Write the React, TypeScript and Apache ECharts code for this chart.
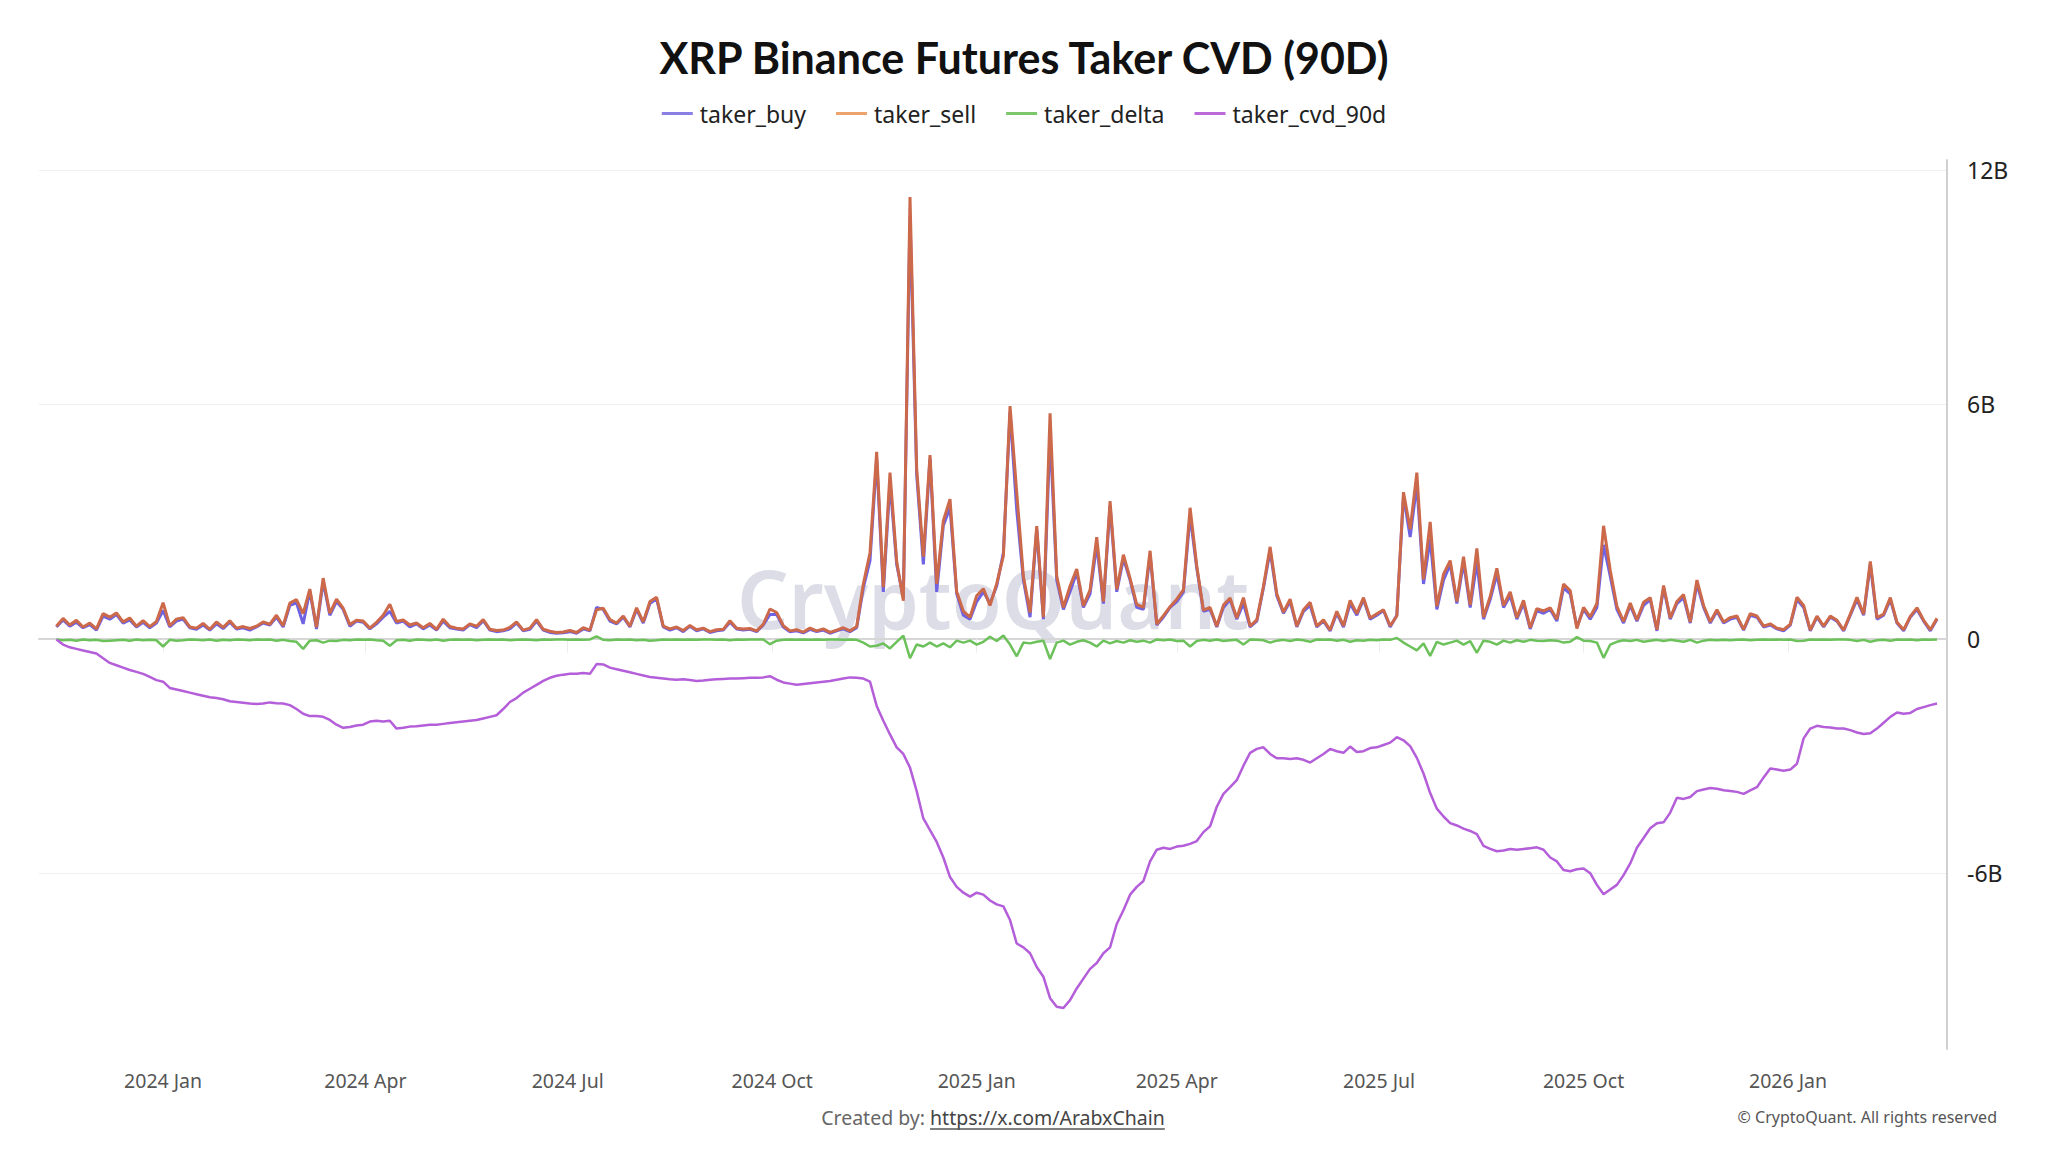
import { useEffect, useRef } from "react";
import * as echarts from "echarts";

const TITLE = "XRP Binance Futures Taker CVD (90D)";
const SERIES_NAMES = ["taker_buy", "taker_sell", "taker_delta", "taker_cvd_90d"];
const START_UTC = Date.UTC(2023, 10, 14);
const STEP_DAYS = 3;

// taker buy volume (billions), one value every 3 days from 2023-11-14
const takerBuyB = [
  0.30, 0.48, 0.32, 0.42, 0.28, 0.36, 0.22, 0.58, 0.50, 0.62, 0.40, 0.48, 0.30, 0.42, 0.28, 0.40,
  0.72, 0.30, 0.45, 0.50, 0.28, 0.24, 0.35, 0.22, 0.38, 0.26, 0.42, 0.25, 0.28, 0.22, 0.30,
  0.40, 0.35, 0.55, 0.30, 0.85, 0.92, 0.38, 1.22, 0.25, 1.45, 0.60, 0.95, 0.75, 0.32, 0.45,
  0.42, 0.25, 0.38, 0.55, 0.70, 0.40, 0.45, 0.30, 0.38, 0.25, 0.35, 0.22, 0.45, 0.28, 0.25,
  0.22, 0.36, 0.28, 0.46, 0.22, 0.18, 0.20, 0.25, 0.40, 0.20, 0.24, 0.45, 0.22, 0.16, 0.14,
  0.15, 0.18, 0.14, 0.25, 0.20, 0.80, 0.75, 0.45, 0.38, 0.55, 0.30, 0.75, 0.40, 0.90, 1.02,
  0.30, 0.22, 0.28, 0.18, 0.32, 0.20, 0.25, 0.16, 0.20, 0.22, 0.42, 0.25, 0.22, 0.24, 0.18,
  0.35, 0.62, 0.62, 0.30, 0.18, 0.20, 0.15, 0.24, 0.18, 0.22, 0.14, 0.20, 0.25, 0.18, 0.28,
  1.30, 2.00, 4.60, 1.20, 4.00, 1.90, 1.05, 10.8, 4.20, 1.90, 4.60, 1.20, 2.90, 3.35, 1.15,
  0.60, 0.50, 0.95, 1.20, 0.90, 1.35, 2.20, 5.80, 3.30, 1.50, 0.55, 2.80, 0.50, 5.25, 1.50,
  0.75, 1.20, 1.70, 0.80, 1.15, 2.40, 0.90, 3.40, 1.20, 2.05, 1.50, 0.80, 0.75, 2.15, 0.35,
  0.55, 0.80, 0.95, 1.20, 3.15, 1.80, 0.70, 0.75, 0.30, 0.80, 1.00, 0.50, 0.90, 0.30, 0.45,
  1.30, 2.25, 1.10, 0.65, 0.95, 0.30, 0.70, 0.85, 0.30, 0.45, 0.20, 0.65, 0.30, 0.90, 0.60,
  1.00, 0.50, 0.60, 0.72, 0.30, 0.60, 3.65, 2.60, 3.95, 1.40, 2.55, 0.75, 1.50, 1.90, 0.90,
  1.95, 0.80, 1.95, 0.50, 1.00, 1.65, 0.80, 1.10, 0.50, 0.90, 0.25, 0.72, 0.65, 0.75, 0.45,
  1.30, 1.15, 0.30, 0.75, 0.50, 0.80, 2.40, 1.60, 0.75, 0.40, 0.85, 0.45, 0.85, 1.00, 0.20,
  1.30, 0.50, 0.90, 1.05, 0.40, 1.40, 0.80, 0.40, 0.70, 0.40, 0.50, 0.55, 0.22, 0.60, 0.55,
  0.30, 0.35, 0.25, 0.20, 0.35, 1.00, 0.80, 0.20, 0.55, 0.30, 0.55, 0.45, 0.20, 0.60, 1.00,
  0.60, 1.90, 0.50, 0.60, 1.00, 0.40, 0.20, 0.55, 0.75, 0.45, 0.20, 0.50,
];

// taker delta = buy - sell (billions)
const takerDeltaB = [
  -0.02, -0.04, -0.03, -0.05, -0.02, -0.04, -0.03, -0.06, -0.05, -0.04, -0.03, -0.05, -0.02, -0.04, -0.03, -0.04,
  -0.20, -0.03, -0.05, -0.04, -0.02, -0.03, -0.04, -0.02, -0.05, -0.03, -0.04, -0.02, -0.03, -0.04, -0.02,
  -0.03, -0.02, -0.05, -0.03, -0.06, -0.08, -0.26, -0.05, -0.04, -0.10, -0.05, -0.06, -0.03, -0.04, -0.02,
  -0.03, -0.02, -0.04, -0.05, -0.18, -0.04, -0.03, -0.05, -0.02, -0.03, -0.04, -0.02, -0.05, -0.03, -0.02,
  -0.03, -0.02, -0.04, -0.03, -0.02, -0.03, -0.02, -0.04, -0.03, -0.02, -0.03, -0.04, -0.02, -0.03, -0.02,
  -0.02, -0.03, -0.02, -0.03, -0.02, 0.06, -0.03, -0.04, -0.02, -0.03, -0.02, -0.04, -0.03, -0.05, -0.04,
  -0.02, -0.03, -0.02, -0.03, -0.02, -0.03, -0.02, -0.02, -0.03, -0.02, -0.04, -0.02, -0.03, -0.02, -0.02,
  -0.02, -0.14, -0.05, -0.03, -0.02, -0.03, -0.02, -0.03, -0.02, -0.03, -0.02, -0.02, -0.03, -0.02, -0.03,
  -0.10, -0.20, -0.18, -0.12, -0.25, -0.08, 0.08, -0.50, -0.15, -0.20, -0.10, -0.20, -0.12, -0.22, -0.05,
  -0.10, -0.05, -0.15, -0.08, 0.05, -0.06, 0.08, -0.15, -0.45, -0.10, -0.12, -0.08, -0.05, -0.52, -0.10,
  -0.05, -0.15, -0.08, -0.04, -0.10, -0.20, -0.05, -0.12, -0.06, -0.10, -0.04, -0.08, -0.05, -0.10, -0.02,
  -0.04, -0.02, -0.06, -0.05, -0.20, -0.06, -0.03, -0.05, -0.02, -0.06, -0.04, -0.03, -0.15, -0.02, -0.03,
  -0.04, -0.10, -0.05, -0.03, -0.06, -0.02, -0.04, -0.08, -0.02, -0.03, -0.02, -0.05, -0.03, -0.08, -0.04,
  -0.05, -0.03, -0.04, -0.02, -0.03, 0.02, -0.10, -0.20, -0.30, -0.12, -0.44, -0.08, -0.15, -0.10, -0.05,
  -0.15, -0.06, -0.36, -0.05, -0.08, -0.15, -0.05, -0.10, -0.04, -0.08, -0.03, -0.05, -0.06, -0.04, -0.05,
  -0.10, -0.08, 0.04, -0.05, -0.06, -0.10, -0.49, -0.15, -0.08, -0.04, -0.06, -0.03, -0.08, -0.05, -0.03,
  -0.06, -0.03, -0.05, -0.08, -0.03, -0.10, -0.05, -0.03, -0.04, -0.03, -0.04, -0.03, -0.02, -0.04, -0.03,
  -0.02, -0.03, -0.02, -0.03, -0.02, -0.06, -0.05, -0.02, -0.03, -0.02, -0.03, -0.02, -0.02, -0.03, -0.06,
  -0.03, -0.08, -0.04, -0.03, -0.05, -0.02, -0.03, -0.02, -0.04, -0.02, -0.03, -0.02,
];

// 90-day cumulative volume delta (billions)
const takerCvd90dB = [
  -0.02, -0.15, -0.22, -0.26, -0.30, -0.34, -0.38, -0.50, -0.62, -0.68, -0.74, -0.80, -0.85, -0.90, -0.98, -1.06,
  -1.10, -1.26, -1.30, -1.34, -1.38, -1.42, -1.46, -1.50, -1.52, -1.55, -1.60, -1.62, -1.64, -1.66, -1.67,
  -1.66, -1.63, -1.65, -1.66, -1.70, -1.80, -1.92, -1.98, -1.98, -2.00, -2.08, -2.20, -2.28, -2.26, -2.22,
  -2.20, -2.12, -2.10, -2.12, -2.10, -2.30, -2.28, -2.25, -2.24, -2.22, -2.20, -2.20, -2.18, -2.16, -2.14,
  -2.12, -2.10, -2.08, -2.04, -2.00, -1.96, -1.80, -1.62, -1.52, -1.38, -1.28, -1.18, -1.08, -1.00, -0.95,
  -0.92, -0.90, -0.90, -0.88, -0.90, -0.65, -0.66, -0.74, -0.78, -0.82, -0.86, -0.90, -0.94, -0.98, -1.00,
  -1.02, -1.04, -1.05, -1.04, -1.06, -1.08, -1.07, -1.05, -1.04, -1.03, -1.02, -1.02, -1.01, -1.00, -1.00,
  -0.99, -0.96, -1.05, -1.12, -1.15, -1.18, -1.16, -1.14, -1.12, -1.10, -1.08, -1.05, -1.02, -0.99, -1.00,
  -1.02, -1.10, -1.72, -2.10, -2.45, -2.78, -2.95, -3.30, -3.90, -4.60, -4.90, -5.20, -5.60, -6.10, -6.35,
  -6.50, -6.60, -6.50, -6.55, -6.70, -6.80, -6.85, -7.20, -7.80, -7.90, -8.05, -8.40, -8.65, -9.20, -9.42,
  -9.45, -9.25, -8.95, -8.70, -8.45, -8.30, -8.05, -7.90, -7.30, -6.95, -6.55, -6.35, -6.20, -5.70, -5.40,
  -5.35, -5.38, -5.32, -5.30, -5.25, -5.18, -4.95, -4.80, -4.30, -3.97, -3.80, -3.62, -3.25, -2.92, -2.82,
  -2.78, -2.95, -3.06, -3.06, -3.08, -3.06, -3.10, -3.17, -3.06, -2.95, -2.82, -2.88, -2.92, -2.76, -2.90,
  -2.88, -2.80, -2.78, -2.72, -2.66, -2.52, -2.60, -2.75, -3.05, -3.45, -3.95, -4.35, -4.55, -4.72, -4.78,
  -4.86, -4.92, -5.00, -5.30, -5.38, -5.44, -5.42, -5.38, -5.40, -5.38, -5.36, -5.34, -5.40, -5.60, -5.70,
  -5.92, -5.95, -5.90, -5.88, -6.00, -6.30, -6.54, -6.42, -6.30, -6.05, -5.75, -5.35, -5.10, -4.85, -4.72,
  -4.70, -4.45, -4.07, -4.10, -4.05, -3.90, -3.86, -3.82, -3.84, -3.88, -3.90, -3.92, -3.97, -3.88, -3.80,
  -3.55, -3.32, -3.35, -3.38, -3.35, -3.20, -2.55, -2.30, -2.23, -2.26, -2.27, -2.30, -2.30, -2.34, -2.40,
  -2.44, -2.42, -2.30, -2.15, -2.00, -1.89, -1.92, -1.90, -1.80, -1.75, -1.70, -1.66,
];

const xTickMonths: [number, number][] = [
  [2024, 0], [2024, 3], [2024, 6], [2024, 9], [2025, 0], [2025, 3], [2025, 6], [2025, 9], [2026, 0],
];
const yTickValuesB = [-6, 0, 6, 12];
const MONTH_NAMES = ["Jan", "Feb", "Mar", "Apr", "May", "Jun", "Jul", "Aug", "Sep", "Oct", "Nov", "Dec"];

const CREATED_BY = "Created by: ";
const CREATED_LINK = "https://x.com/ArabxChain";
const COPYRIGHT = "© CryptoQuant. All rights reserved";
const WATERMARK = "CryptoQuant";

function measure(text: string, font: string): number {
  const c = document.createElement("canvas");
  const ctx = c.getContext("2d");
  if (!ctx) return text.length * 9;
  ctx.font = font;
  return ctx.measureText(text).width;
}

export default function App() {
  const ref = useRef<HTMLDivElement>(null);

  useEffect(() => {
    if (!ref.current) return;
    const chart = echarts.init(ref.current, null, { renderer: "svg" });
    const DAY = 86400000;
    const B = 1e9;
    const dates = takerBuyB.map((_, i) => START_UTC + i * STEP_DAYS * DAY);
    const buy = takerBuyB.map((v, i) => [dates[i], v * B]);
    const sell = takerBuyB.map((v, i) => [dates[i], (v - takerDeltaB[i]) * B]);
    const delta = takerDeltaB.map((v, i) => [dates[i], v * B]);
    const cvd = takerCvd90dB.map((v, i) => [dates[i], v * B]);
    const xTicks = xTickMonths.map(([y, m]) => Date.UTC(y, m, 1));
    const yTicks = yTickValuesB.map((v) => v * B);

    const footFont = '19.5px "Noto Sans"';
    const wA = measure(CREATED_BY, footFont);
    const wB = measure(CREATED_LINK, footFont);
    const footCenter = 993;
    const footStart = footCenter - (wA + wB) / 2;
    const footY = 1117;

    chart.setOption({
      animation: false,
      backgroundColor: "#ffffff",
      title: {
        text: TITLE,
        left: "center",
        top: 36,
        padding: 0,
        textStyle: { fontFamily: "Lato", fontWeight: "bold", fontSize: 43, color: "#111111" },
      },
      legend: {
        top: 102,
        left: "center",
        padding: 0,
        icon: "rect",
        itemWidth: 31,
        itemHeight: 3,
        itemGap: 30,
        textStyle: { fontFamily: "Noto Sans", fontSize: 23, color: "#222222", padding: [0, 0, 0, 2] },
        data: [
          { name: SERIES_NAMES[0], itemStyle: { color: "#8a7fe4" } },
          { name: SERIES_NAMES[1], itemStyle: { color: "#eea36c" } },
          { name: SERIES_NAMES[2], itemStyle: { color: "#7cc76a" } },
          { name: SERIES_NAMES[3], itemStyle: { color: "#bb6ad9" } },
        ],
      },
      grid: { left: 39, right: 101, top: 160, bottom: 103 },
      xAxis: {
        type: "value",
        min: Date.UTC(2023, 10, 6, 4),
        max: Date.UTC(2026, 2, 13, 12),
        axisLine: { show: true, lineStyle: { color: "#d6d6d6", width: 2 } },
        axisTick: { show: true, length: 14, customValues: xTicks, lineStyle: { color: "#ececec", width: 1 } },
        axisLabel: {
          customValues: xTicks,
          margin: 21,
          fontFamily: "Noto Sans",
          fontSize: 19.5,
          color: "#555555",
          formatter: (v: number) => {
            const d = new Date(v);
            return `${d.getUTCFullYear()} ${MONTH_NAMES[d.getUTCMonth()]}`;
          },
        },
        splitLine: { show: false },
      },
      yAxis: {
        type: "value",
        position: "right",
        min: -10.5e9,
        max: 12.25e9,
        axisLine: { show: true, lineStyle: { color: "#d0d0d0", width: 2 } },
        axisTick: { show: false, customValues: yTicks },
        axisLabel: {
          customValues: yTicks,
          margin: 20,
          fontFamily: "Noto Sans",
          fontSize: 23,
          color: "#222222",
          formatter: (v: number) => (v === 0 ? "0" : `${Math.round(v / B)}B`),
        },
        splitLine: { show: true, lineStyle: { color: "#efefef", width: 1 } },
      },
      graphic: [
        {
          type: "text",
          x: 993,
          y: 597,
          z: -10,
          silent: true,
          style: {
            text: WATERMARK,
            font: '600 81px "Noto Sans"',
            fill: "#dcdde6",
            align: "center",
            verticalAlign: "middle",
          },
        },
        {
          type: "text",
          x: footStart,
          y: footY,
          style: { text: CREATED_BY, font: footFont, fill: "#666666", verticalAlign: "middle" },
        },
        {
          type: "text",
          x: footStart + wA,
          y: footY,
          style: { text: CREATED_LINK, font: footFont, fill: "#444444", verticalAlign: "middle" },
        },
        {
          type: "line",
          shape: { x1: footStart + wA, y1: footY + 12, x2: footStart + wA + wB, y2: footY + 12 },
          style: { stroke: "#555555", lineWidth: 1.3 },
        },
        {
          type: "text",
          x: 1997,
          y: footY,
          style: {
            text: COPYRIGHT,
            font: '16px "Noto Sans"',
            fill: "#555555",
            align: "right",
            verticalAlign: "middle",
          },
        },
      ],
      series: [
        {
          name: SERIES_NAMES[0],
          type: "line",
          data: buy,
          showSymbol: false,
          color: "#6f63e3",
          lineStyle: { width: 3, color: "#6f63e3" },
          z: 3,
        },
        {
          name: SERIES_NAMES[1],
          type: "line",
          data: sell,
          showSymbol: false,
          color: "#cc694b",
          lineStyle: { width: 3, color: "#cc694b" },
          z: 4,
        },
        {
          name: SERIES_NAMES[2],
          type: "line",
          data: delta,
          showSymbol: false,
          color: "#6cc15b",
          lineStyle: { width: 2.5, color: "#6cc15b" },
          z: 5,
        },
        {
          name: SERIES_NAMES[3],
          type: "line",
          data: cvd,
          showSymbol: false,
          color: "#b45ed9",
          lineStyle: { width: 2.5, color: "#b45ed9" },
          z: 6,
        },
      ],
    });

    return () => chart.dispose();
  }, []);

  return (
    <div
      ref={ref}
      style={{ position: "fixed", left: 0, top: 0, width: 2048, height: 1152, background: "#ffffff" }}
    />
  );
}
